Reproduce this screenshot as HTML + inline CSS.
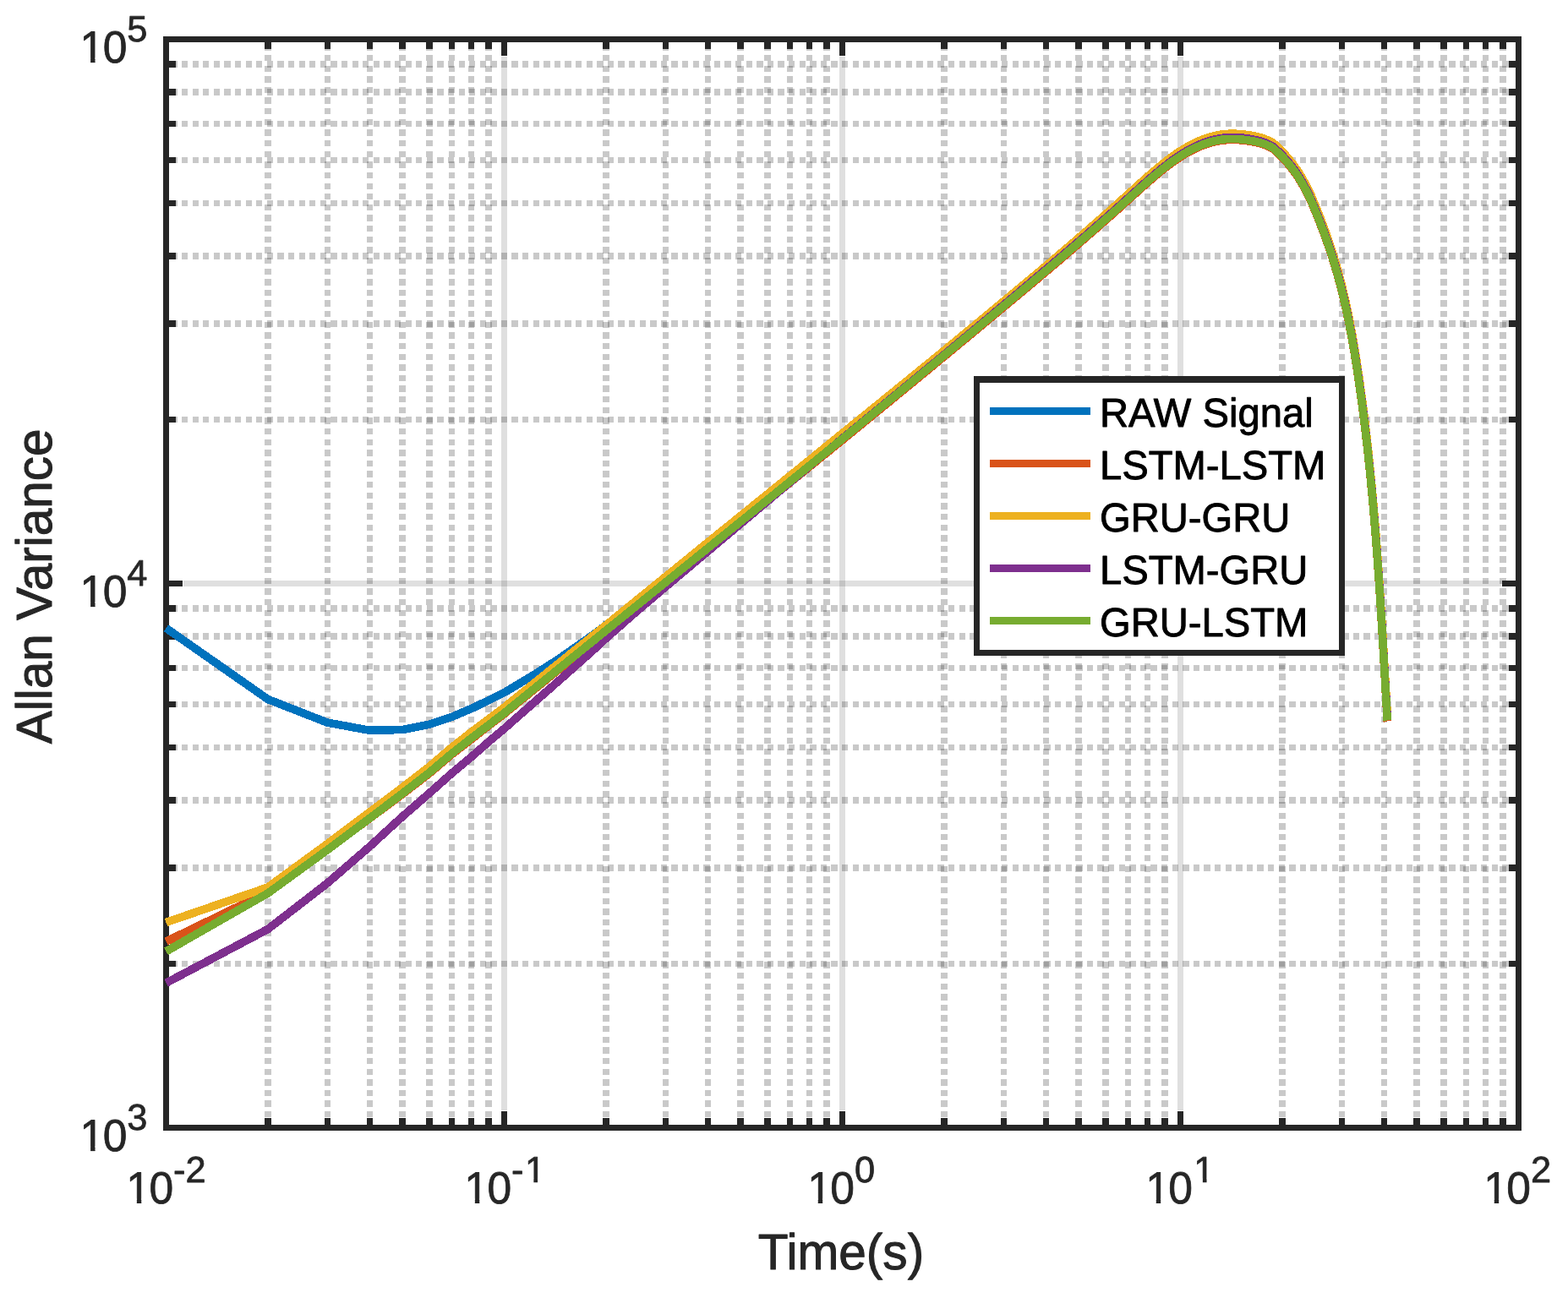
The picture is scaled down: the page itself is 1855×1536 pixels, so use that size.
<!DOCTYPE html>
<html lang="en"><head><meta charset="utf-8"><title>Allan Variance</title>
<style>html,body{margin:0;padding:0;background:#fff}body{width:1855px;height:1536px;overflow:hidden}svg{display:block}text{font-family:"Liberation Sans",Arial,Helvetica,sans-serif;font-kerning:normal;text-rendering:geometricPrecision}</style>
</head><body>
<svg width="1855" height="1536" viewBox="0 0 1855 1536">
<rect x="0" y="0" width="1855" height="1536" fill="#fff"/>
<defs><clipPath id="c0" clipPathUnits="userSpaceOnUse"><path d="M-1 -61.92h30.7v56.77h-30.7zM14.16 -5.25h5.36v5.55h-5.36zM29.1 -61.92h28.8v82.56h-28.8z"/></clipPath><clipPath id="c1" clipPathUnits="userSpaceOnUse"><path d="M0.4 -52.08h14.55v69.44h-14.55zM13.45 -52.08h26.14v47.54h-26.14zM26.3 -4.64h4.64v4.94h-4.64z"/></clipPath><clipPath id="c2" clipPathUnits="userSpaceOnUse"><path d="M-1 -52.08h26.14v47.54h-26.14zM11.85 -4.64h4.64v4.94h-4.64z"/></clipPath></defs>
<g shape-rendering="crispEdges" fill="none" stroke="#262626" stroke-width="7.5">
<g stroke-opacity="0.25">
<path stroke-dasharray="7.35 5.2775" stroke-dashoffset="6.7775" d="M316.91 46.5V1334.5M387.35 46.5V1334.5M437.32 46.5V1334.5M476.09 46.5V1334.5M507.76 46.5V1334.5M534.54 46.5V1334.5M557.74 46.5V1334.5M578.2 46.5V1334.5M716.91 46.5V1334.5M787.35 46.5V1334.5M837.32 46.5V1334.5M876.09 46.5V1334.5M907.76 46.5V1334.5M934.54 46.5V1334.5M957.74 46.5V1334.5M978.2 46.5V1334.5M1116.91 46.5V1334.5M1187.35 46.5V1334.5M1237.32 46.5V1334.5M1276.09 46.5V1334.5M1307.76 46.5V1334.5M1334.54 46.5V1334.5M1357.74 46.5V1334.5M1378.2 46.5V1334.5M1516.91 46.5V1334.5M1587.35 46.5V1334.5M1637.32 46.5V1334.5M1676.09 46.5V1334.5M1707.76 46.5V1334.5M1734.54 46.5V1334.5M1757.74 46.5V1334.5M1778.2 46.5V1334.5"/>
<path stroke-dasharray="7.35 5.2484" stroke-dashoffset="6.7484" d="M196.5 1140.64H1796.5"/>
<path stroke-dasharray="7.35 5.2484" stroke-dashoffset="6.7484" d="M196.5 1027.23H1796.5"/>
<path stroke-dasharray="7.35 5.2484" stroke-dashoffset="6.7484" d="M196.5 946.77H1796.5"/>
<path stroke-dasharray="7.35 5.2484" stroke-dashoffset="6.7484" d="M196.5 884.36H1796.5"/>
<path stroke-dasharray="7.35 5.2484" stroke-dashoffset="6.7484" d="M196.5 833.37H1796.5"/>
<path stroke-dasharray="7.35 5.2484" stroke-dashoffset="6.7484" d="M196.5 790.26H1796.5"/>
<path stroke-dasharray="7.35 5.2484" stroke-dashoffset="6.7484" d="M196.5 752.91H1796.5"/>
<path stroke-dasharray="7.35 5.2484" stroke-dashoffset="6.7484" d="M196.5 719.97H1796.5"/>
<path stroke-dasharray="7.35 5.2484" stroke-dashoffset="6.7484" d="M196.5 496.64H1796.5"/>
<path stroke-dasharray="7.35 5.2484" stroke-dashoffset="6.7484" d="M196.5 383.23H1796.5"/>
<path stroke-dasharray="7.35 5.2484" stroke-dashoffset="6.7484" d="M196.5 302.77H1796.5"/>
<path stroke-dasharray="7.35 5.2484" stroke-dashoffset="6.7484" d="M196.5 240.36H1796.5"/>
<path stroke-dasharray="7.35 5.2484" stroke-dashoffset="6.7484" d="M196.5 189.37H1796.5"/>
<path stroke-dasharray="7.35 5.2484" stroke-dashoffset="6.7484" d="M196.5 146.26H1796.5"/>
<path stroke-dasharray="7.35 5.2484" stroke-dashoffset="6.7484" d="M196.5 108.91H1796.5"/>
<path stroke-dasharray="7.35 5.2484" stroke-dashoffset="6.7484" d="M196.5 75.97H1796.5"/>
</g>
<g stroke-opacity="0.15">
<line x1="596.5" y1="67" x2="596.5" y2="1314"/>
<line x1="996.5" y1="67" x2="996.5" y2="1314"/>
<line x1="1396.5" y1="67" x2="1396.5" y2="1314"/>
<line x1="217" y1="690.5" x2="1776" y2="690.5"/>
</g>
</g>
<g shape-rendering="crispEdges" fill="none" stroke="#262626" stroke-width="7.5">
<path d="M316.91 1334.5v-11.5M316.91 46.5v11.5M387.35 1334.5v-11.5M387.35 46.5v11.5M437.32 1334.5v-11.5M437.32 46.5v11.5M476.09 1334.5v-11.5M476.09 46.5v11.5M507.76 1334.5v-11.5M507.76 46.5v11.5M534.54 1334.5v-11.5M534.54 46.5v11.5M557.74 1334.5v-11.5M557.74 46.5v11.5M578.2 1334.5v-11.5M578.2 46.5v11.5M596.5 1334.5v-19.5M596.5 46.5v19.5M716.91 1334.5v-11.5M716.91 46.5v11.5M787.35 1334.5v-11.5M787.35 46.5v11.5M837.32 1334.5v-11.5M837.32 46.5v11.5M876.09 1334.5v-11.5M876.09 46.5v11.5M907.76 1334.5v-11.5M907.76 46.5v11.5M934.54 1334.5v-11.5M934.54 46.5v11.5M957.74 1334.5v-11.5M957.74 46.5v11.5M978.2 1334.5v-11.5M978.2 46.5v11.5M996.5 1334.5v-19.5M996.5 46.5v19.5M1116.91 1334.5v-11.5M1116.91 46.5v11.5M1187.35 1334.5v-11.5M1187.35 46.5v11.5M1237.32 1334.5v-11.5M1237.32 46.5v11.5M1276.09 1334.5v-11.5M1276.09 46.5v11.5M1307.76 1334.5v-11.5M1307.76 46.5v11.5M1334.54 1334.5v-11.5M1334.54 46.5v11.5M1357.74 1334.5v-11.5M1357.74 46.5v11.5M1378.2 1334.5v-11.5M1378.2 46.5v11.5M1396.5 1334.5v-19.5M1396.5 46.5v19.5M1516.91 1334.5v-11.5M1516.91 46.5v11.5M1587.35 1334.5v-11.5M1587.35 46.5v11.5M1637.32 1334.5v-11.5M1637.32 46.5v11.5M1676.09 1334.5v-11.5M1676.09 46.5v11.5M1707.76 1334.5v-11.5M1707.76 46.5v11.5M1734.54 1334.5v-11.5M1734.54 46.5v11.5M1757.74 1334.5v-11.5M1757.74 46.5v11.5M1778.2 1334.5v-11.5M1778.2 46.5v11.5M196.5 1140.64h11.5M1796.5 1140.64h-11.5M196.5 1027.23h11.5M1796.5 1027.23h-11.5M196.5 946.77h11.5M1796.5 946.77h-11.5M196.5 884.36h11.5M1796.5 884.36h-11.5M196.5 833.37h11.5M1796.5 833.37h-11.5M196.5 790.26h11.5M1796.5 790.26h-11.5M196.5 752.91h11.5M1796.5 752.91h-11.5M196.5 719.97h11.5M1796.5 719.97h-11.5M196.5 690.5h19.5M1796.5 690.5h-19.5M196.5 496.64h11.5M1796.5 496.64h-11.5M196.5 383.23h11.5M1796.5 383.23h-11.5M196.5 302.77h11.5M1796.5 302.77h-11.5M196.5 240.36h11.5M1796.5 240.36h-11.5M196.5 189.37h11.5M1796.5 189.37h-11.5M196.5 146.26h11.5M1796.5 146.26h-11.5M196.5 108.91h11.5M1796.5 108.91h-11.5M196.5 75.97h11.5M1796.5 75.97h-11.5"/>
<rect x="196.5" y="46.5" width="1600" height="1288"/>
</g>
<g shape-rendering="crispEdges" fill="none" stroke-width="9.6" stroke-linejoin="round" stroke-linecap="butt">
<polyline stroke="#0072BD" points="196.5,743.3 316.9,827.5 387.4,855.1 437.3,864.3 476.1,863.5 507.8,857.2 534.5,848.4 557.7,838.5 578.2,828.7 596.5,819.6 600,817.43 603,815.64 606,813.84 609,812.05 612,810.26 615,808.47 618,806.68 621,804.89 624,803.1 627,801.31 630,799.52 633,797.62 636,795.71 639,793.81 642,791.91 645,790 648,788.1 651,786.2 654,784.3 657,782.4 660,780.5 663,778.4 666,776.3 669,774.2 672,772.1 675,770 678,767.9 681,765.81 684,763.71 687,761.61 690,759.51 693,757.42 696,755.32 699,753.22 702,751.13 705,748.85 708,746.55 711,744.24 714,741.93 717,739.62 720,737.31 723,735.01 726,732.7 729,730.39 732,728.08 735,725.78 738,723.47 741,721.15 744,718.8 747,716.44 750,714.09 753,711.74 756,709.39 759,707.04 762,704.69 765,702.33 768,699.98 771,697.63 774,695.28 777,692.93 780,690.57 783,688.22 786,685.87 789,683.52 792,681.17 795,678.81 798,676.46 801,674.09 804,671.66 807,669.24 810,666.81 813,664.39 816,661.97 819,659.54 822,657.12 825,654.69 828,652.27 831,649.84 834,647.42 837,644.99 840,642.56 843,640.14 846,637.71 849,635.29 852,632.86 855,630.43 858,628.01 861,625.58 864,623.15 867,620.72 870,618.3 873,615.87 876,613.44 879,611.01 882,608.58 885,606.15 888,603.72 891,601.29 894,598.86 897,596.43 900,594 903,591.57 906,589.14 909,586.71 912,584.27 915,581.84 918,579.41 921,576.98 924,574.54 927,572.11 930,569.67 933,567.24 936,564.8 939,562.37 942,559.93 945,557.5 948,555.06 951,552.62 954,550.18 957,547.74 960,545.31 963,542.87 966,540.43 969,537.99 972,535.55 975,533.1 978,530.66 981,528.22 984,525.78 987,523.33 990,520.89 993,518.45 996,516 999,513.56 1002,511.11 1005,508.66 1008,506.22 1011,503.77 1014,501.32 1017,498.87 1020,496.42 1023,493.97 1026,491.52 1029,489.07 1032,486.62 1035,484.16 1038,481.71 1041,479.26 1044,476.8 1047,474.35 1050,471.89 1053,469.43 1056,466.97 1059,464.52 1062,462.06 1065,459.6 1068,457.14 1071,454.68 1074,452.21 1077,449.75 1080,447.29 1083,444.82 1086,442.36 1089,439.89 1092,437.43 1095,434.96 1098,432.49 1101,430.02 1104,427.55 1107,425.08 1110,422.61 1113,420.14 1116,417.67 1119,415.19 1122,412.72 1125,410.24 1128,407.76 1131,405.29 1134,402.81 1137,400.33 1140,397.85 1143,395.37 1146,392.89 1149,390.4 1152,387.92 1155,385.44 1158,382.95 1161,380.46 1164,377.98 1167,375.49 1170,373 1173,370.51 1176,368.02 1179,365.52 1182,363.03 1185,360.54 1188,358.04 1191,355.54 1194,353.05 1197,350.55 1200,348.05 1203,345.54 1206,343.04 1209,340.54 1212,338.03 1215,335.52 1218,333.01 1221,330.49 1224,327.98 1227,325.46 1230,322.93 1233,320.41 1236,317.88 1239,315.35 1242,312.81 1245,310.28 1248,307.74 1251,305.19 1254,302.64 1257,300.09 1260,297.53 1263,294.97 1266,292.4 1269,289.83 1272,287.26 1275,284.68 1278,282.1 1281,279.51 1284,276.91 1287,274.31 1290,271.71 1293,269.1 1296,266.48 1299,263.86 1302,261.23 1305,258.6 1308,255.96 1311,253.31 1314,250.66 1317,248 1320,245.34 1323,242.66 1326,239.98 1329,237.3 1332,234.6 1335,231.9 1338,229.19 1341,226.48 1344,223.77 1347,221.07 1350,218.38 1353,215.71 1356,213.05 1359,210.42 1362,207.82 1365,205.24 1368,202.71 1371,200.22 1374,197.77 1377,195.38 1380,193.03 1383,190.75 1386,188.53 1389,186.38 1392,184.3 1395,182.3 1398,180.38 1401,178.54 1404,176.79 1407,175.12 1410,173.54 1413,172.05 1416,170.65 1419,169.34 1422,168.13 1425,167 1428,165.97 1431,165.04 1434,164.2 1437,163.46 1440,162.83 1443,162.29 1446,161.85 1449,161.52 1452,161.29 1455,161.16 1458,161.12 1461,161.17 1464,161.3 1467,161.51 1470,161.8 1473,162.15 1476,162.57 1479,163.04 1482,163.57 1485,164.17 1488,164.85 1491,165.65 1494,166.57 1497,167.65 1500,168.9 1503,170.35 1506,172.02 1508.01,173.79 1511.29,176.79 1514.41,179.79 1517.37,182.8 1520.18,185.8 1522.85,188.8 1525.39,191.81 1527.79,194.81 1530.08,197.81 1532.25,200.81 1534.32,203.82 1536.29,206.82 1538.18,209.82 1539.98,212.82 1541.7,215.82 1543.36,218.83 1544.96,221.83 1546.51,224.83 1548.01,227.83 1549.48,230.83 1550.84,233.83 1552.12,236.84 1553.39,239.84 1554.65,242.84 1555.89,245.84 1557.12,248.84 1558.34,251.84 1559.54,254.84 1560.73,257.85 1561.9,260.85 1563.06,263.85 1564.21,266.85 1565.34,269.85 1566.45,272.85 1567.55,275.85 1568.63,278.85 1569.7,281.86 1570.75,284.86 1571.79,287.86 1572.81,290.86 1573.81,293.86 1574.8,296.86 1575.77,299.86 1576.72,302.86 1577.65,305.86 1578.57,308.87 1579.47,311.87 1580.36,314.87 1581.23,317.87 1582.08,320.87 1582.92,323.87 1583.75,326.87 1584.56,329.87 1585.35,332.87 1586.13,335.87 1586.9,338.87 1587.65,341.88 1588.39,344.88 1589.12,347.88 1589.83,350.88 1590.54,353.88 1591.22,356.88 1591.9,359.88 1592.57,362.88 1593.22,365.88 1593.86,368.88 1594.49,371.88 1595.11,374.88 1595.72,377.88 1596.32,380.88 1596.91,383.89 1597.49,386.89 1598.06,389.89 1598.62,392.89 1599.17,395.89 1599.71,398.89 1600.25,401.89 1600.77,404.89 1601.29,407.89 1601.8,410.89 1602.3,413.89 1602.8,416.89 1603.29,419.89 1603.77,422.89 1604.25,425.89 1604.72,428.89 1605.18,431.89 1605.64,434.9 1606.1,437.9 1606.54,440.9 1606.99,443.9 1607.43,446.9 1607.86,449.9 1608.29,452.9 1608.72,455.9 1609.14,458.9 1609.56,461.9 1609.97,464.9 1610.38,467.9 1610.79,470.9 1611.19,473.9 1611.59,476.9 1611.98,479.9 1612.37,482.9 1612.75,485.9 1613.14,488.9 1613.51,491.9 1613.89,494.9 1614.26,497.9 1614.62,500.91 1614.98,503.91 1615.34,506.91 1615.7,509.91 1616.05,512.91 1616.4,515.91 1616.74,518.91 1617.08,521.91 1617.42,524.91 1617.75,527.91 1618.09,530.91 1618.41,533.91 1618.74,536.91 1619.06,539.91 1619.37,542.91 1619.69,545.91 1620,548.91 1620.31,551.91 1620.61,554.91 1620.91,557.91 1621.21,560.91 1621.51,563.91 1621.8,566.91 1622.09,569.91 1622.38,572.91 1622.66,575.91 1622.94,578.91 1623.22,581.91 1623.49,584.91 1623.77,587.92 1624.04,590.92 1624.31,593.92 1624.57,596.92 1624.83,599.92 1625.09,602.92 1625.35,605.92 1625.61,608.92 1625.86,611.92 1626.11,614.92 1626.36,617.92 1626.6,620.92 1626.84,623.92 1627.09,626.92 1627.32,629.92 1627.56,632.92 1627.8,635.92 1628.03,638.92 1628.26,641.92 1628.49,644.92 1628.71,647.92 1628.94,650.92 1629.16,653.92 1629.38,656.92 1629.6,659.92 1629.82,662.92 1630.03,665.92 1630.24,668.92 1630.46,671.92 1630.67,674.92 1630.87,677.92 1631.08,680.92 1631.29,683.92 1631.49,686.92 1631.69,689.92 1631.89,692.92 1632.09,695.92 1632.29,698.92 1632.49,701.92 1632.68,704.93 1632.88,707.93 1633.07,710.93 1633.26,713.93 1633.45,716.93 1633.64,719.93 1633.83,722.93 1634.02,725.93 1634.21,728.93 1634.39,731.93 1634.58,734.93 1634.76,737.93 1634.94,740.93 1635.13,743.93 1635.31,746.93 1635.49,749.93 1635.67,752.93 1635.85,755.93 1636.02,758.93 1636.2,761.93 1636.38,764.93 1636.56,767.93 1636.73,770.93 1636.91,773.93 1637.08,776.93 1637.26,779.93 1637.43,782.93 1637.61,785.93 1637.78,788.93 1637.96,791.93 1638.13,794.93 1638.3,797.93 1638.48,800.93 1638.65,803.93 1638.82,806.93 1639,809.93 1639.17,812.93 1639.34,815.93 1639.52,818.93 1639.69,821.93 1639.86,824.93 1640.04,827.93 1640.21,830.93 1640.38,833.93 1640.56,836.93 1640.73,839.93 1640.91,842.93 1641.08,845.93 1641.26,848.93 1641.4,849.33"/>
<polyline stroke="#D95319" points="196.5,1114.1 316.9,1055.8 387.4,1005.35 437.3,968.6 476.1,939.8 507.8,915.3 534.5,892.7 557.7,874.8 578.2,858.7 596.5,844.8 600,841.88 603,839.45 606,837.01 609,834.58 612,832.14 615,829.71 618,827.28 621,824.85 624,822.42 627,819.98 630,817.55 633,815.12 636,812.69 639,810.26 642,807.83 645,805.4 648,802.97 651,800.54 654,798.12 657,795.69 660,793.26 663,790.83 666,788.4 669,785.98 672,783.55 675,781.12 678,778.69 681,776.27 684,773.84 687,771.42 690,768.99 693,766.56 696,764.14 699,761.71 702,759.29 705,756.86 708,754.44 711,752.01 714,749.59 717,747.16 720,744.74 723,742.31 726,739.89 729,737.46 732,735.04 735,732.62 738,730.19 741,727.77 744,725.34 747,722.92 750,720.5 753,718.07 756,715.65 759,713.23 762,710.8 765,708.38 768,705.95 771,703.53 774,701.11 777,698.68 780,696.26 783,693.83 786,691.41 789,688.99 792,686.56 795,684.14 798,681.71 801,679.29 804,676.87 807,674.44 810,672.02 813,669.59 816,667.17 819,664.74 822,662.32 825,659.89 828,657.47 831,655.04 834,652.61 837,650.19 840,647.76 843,645.34 846,642.91 849,640.48 852,638.06 855,635.63 858,633.2 861,630.77 864,628.35 867,625.92 870,623.49 873,621.06 876,618.63 879,616.2 882,613.78 885,611.35 888,608.92 891,606.49 894,604.06 897,601.62 900,599.19 903,596.76 906,594.33 909,591.9 912,589.47 915,587.03 918,584.6 921,582.17 924,579.73 927,577.3 930,574.86 933,572.43 936,569.99 939,567.56 942,565.12 945,562.68 948,560.25 951,557.81 954,555.37 957,552.93 960,550.49 963,548.05 966,545.61 969,543.17 972,540.73 975,538.29 978,535.85 981,533.4 984,530.96 987,528.52 990,526.07 993,523.63 996,521.18 999,518.73 1002,516.29 1005,513.84 1008,511.38 1011,508.93 1014,506.48 1017,504.03 1020,501.58 1023,499.12 1026,496.67 1029,494.21 1032,491.76 1035,489.3 1038,486.85 1041,484.39 1044,481.93 1047,479.47 1050,477.01 1053,474.55 1056,472.09 1059,469.63 1062,467.17 1065,464.7 1068,462.24 1071,459.78 1074,457.31 1077,454.84 1080,452.38 1083,449.91 1086,447.44 1089,444.97 1092,442.5 1095,440.03 1098,437.56 1101,435.09 1104,432.62 1107,430.14 1110,427.67 1113,425.19 1116,422.71 1119,420.24 1122,417.76 1125,415.28 1128,412.8 1131,410.32 1134,407.84 1137,405.36 1140,402.87 1143,400.39 1146,397.9 1149,395.42 1152,392.93 1155,390.44 1158,387.95 1161,385.46 1164,382.97 1167,380.48 1170,377.99 1173,375.49 1176,373 1179,370.5 1182,368.01 1185,365.51 1188,363.01 1191,360.51 1194,358.01 1197,355.51 1200,353 1203,350.5 1206,347.99 1209,345.48 1212,342.97 1215,340.46 1218,337.94 1221,335.42 1224,332.9 1227,330.38 1230,327.86 1233,325.33 1236,322.8 1239,320.26 1242,317.72 1245,315.17 1248,312.62 1251,310.06 1254,307.51 1257,304.94 1260,302.38 1263,299.81 1266,297.23 1269,294.66 1272,292.07 1275,289.48 1278,286.89 1281,284.29 1284,281.69 1287,279.08 1290,276.47 1293,273.85 1296,271.23 1299,268.59 1302,265.96 1305,263.32 1308,260.67 1311,258.01 1314,255.35 1317,252.68 1320,250.01 1323,247.33 1326,244.64 1329,241.94 1332,239.24 1335,236.53 1338,233.81 1341,231.09 1344,228.38 1347,225.67 1350,222.97 1353,220.28 1356,217.62 1359,214.98 1362,212.37 1365,209.79 1368,207.24 1371,204.74 1374,202.29 1377,199.88 1380,197.53 1383,195.24 1386,193.01 1389,190.85 1392,188.77 1395,186.75 1398,184.82 1401,182.98 1404,181.22 1407,179.54 1410,177.95 1413,176.45 1416,175.04 1419,173.73 1422,172.5 1425,171.37 1428,170.33 1431,169.39 1434,168.54 1437,167.79 1440,167.15 1443,166.6 1446,166.15 1449,165.81 1452,165.57 1455,165.43 1458,165.39 1461,165.43 1464,165.56 1467,165.77 1470,166.05 1473,166.4 1476,166.82 1479,167.29 1482,167.81 1485,168.41 1488,169.09 1491,169.88 1494,170.8 1497,171.87 1500,173.13 1503,174.57 1506,176.24 1508.01,178 1511.29,181 1514.41,184 1517.37,187 1520.18,190 1522.85,193 1525.39,196 1527.79,199 1530.08,202 1532.25,205 1534.32,208 1536.29,211 1538.18,214 1539.98,217 1541.7,220 1543.36,223 1544.96,226 1546.51,229 1548.01,232 1549.48,235 1550.84,238 1552.12,241 1553.39,244 1554.65,247 1555.89,250 1557.12,253 1558.34,256 1559.54,259 1560.73,262 1561.9,265 1563.06,268 1564.21,271 1565.34,274 1566.45,277 1567.55,280 1568.63,283 1569.7,286 1570.75,289 1571.79,292 1572.81,295 1573.81,298 1574.8,301 1575.77,304 1576.72,307 1577.65,310 1578.57,313 1579.47,316 1580.36,319 1581.23,322 1582.08,325 1582.92,328 1583.75,331 1584.56,334 1585.35,337 1586.13,340 1586.9,343 1587.65,346 1588.39,349 1589.12,352 1589.83,355 1590.54,358 1591.22,361 1591.9,364 1592.57,367 1593.22,370 1593.86,373 1594.49,376 1595.11,379 1595.72,382 1596.32,385 1596.91,388 1597.49,391 1598.06,394 1598.62,397 1599.17,400 1599.71,403 1600.25,406 1600.77,409 1601.29,412 1601.8,415 1602.3,418 1602.8,421 1603.29,424 1603.77,427 1604.25,430 1604.72,433 1605.18,436 1605.64,439 1606.1,442 1606.54,445 1606.99,448 1607.43,451 1607.86,454 1608.29,457 1608.72,460 1609.14,463 1609.56,466 1609.97,469 1610.38,472 1610.79,475 1611.19,478 1611.59,481 1611.98,484 1612.37,487 1612.75,490 1613.14,493 1613.51,496 1613.89,499 1614.26,502 1614.62,505 1614.98,508 1615.34,511 1615.7,514 1616.05,517 1616.4,520 1616.74,523 1617.08,526 1617.42,529 1617.75,532 1618.09,535 1618.41,538 1618.74,541 1619.06,544 1619.37,547 1619.69,550 1620,553 1620.31,556 1620.61,559 1620.91,562 1621.21,565 1621.51,568 1621.8,571 1622.09,574 1622.38,577 1622.66,580 1622.94,583 1623.22,586 1623.49,589 1623.77,592 1624.04,595 1624.31,598 1624.57,601 1624.83,604 1625.09,607 1625.35,610 1625.61,613 1625.86,616 1626.11,619 1626.36,622 1626.6,625 1626.84,628 1627.09,631 1627.32,634 1627.56,637 1627.8,640 1628.03,643 1628.26,646 1628.49,649 1628.71,652 1628.94,655 1629.16,658 1629.38,661 1629.6,664 1629.82,667 1630.03,670 1630.24,673 1630.46,676 1630.67,679 1630.87,682 1631.08,685 1631.29,688 1631.49,691 1631.69,694 1631.89,697 1632.09,700 1632.29,703 1632.49,706 1632.68,709 1632.88,712 1633.07,715 1633.26,718 1633.45,721 1633.64,724 1633.83,727 1634.02,730 1634.21,733 1634.39,736 1634.58,739 1634.76,742 1634.94,745 1635.13,748 1635.31,751 1635.49,754 1635.67,757 1635.85,760 1636.02,763 1636.2,766 1636.38,769 1636.56,772 1636.73,775 1636.91,778 1637.08,781 1637.26,784 1637.43,787 1637.61,790 1637.78,793 1637.96,796 1638.13,799 1638.3,802 1638.48,805 1638.65,808 1638.82,811 1639,814 1639.17,817 1639.34,820 1639.52,823 1639.69,826 1639.86,829 1640.04,832 1640.21,835 1640.38,838 1640.56,841 1640.73,844 1640.91,847 1641.08,850 1641.26,853 1641.4,853.4"/>
<polyline stroke="#EDB120" points="196.5,1091.5 316.9,1050 387.4,998.55 437.3,961 476.1,931.9 507.8,907.3 534.5,884.5 557.7,866.3 578.2,850.9 596.5,837.2 600,834.28 603,831.85 606,829.43 609,827 612,824.57 615,822.14 618,819.71 621,817.28 624,814.86 627,812.43 630,810 633,807.58 636,805.15 639,802.73 642,800.3 645,797.87 648,795.45 651,793.03 654,790.6 657,788.18 660,785.75 663,783.33 666,780.91 669,778.48 672,776.06 675,773.64 678,771.22 681,768.79 684,766.37 687,763.95 690,761.53 693,759.11 696,756.69 699,754.27 702,751.84 705,749.42 708,747 711,744.58 714,742.16 717,739.74 720,737.3 723,734.86 726,732.42 729,729.98 732,727.54 735,725.1 738,722.66 741,720.22 744,717.78 747,715.34 750,712.91 753,710.47 756,708.03 759,705.59 762,703.15 765,700.71 768,698.27 771,695.83 774,693.39 777,690.95 780,688.51 783,686.07 786,683.63 789,681.19 792,678.76 795,676.32 798,673.88 801,671.44 804,669 807,666.56 810,664.12 813,661.68 816,659.24 819,656.8 822,654.35 825,651.91 828,649.47 831,647.03 834,644.59 837,642.15 840,639.72 843,637.3 846,634.87 849,632.45 852,630.02 855,627.59 858,625.17 861,622.74 864,620.31 867,617.89 870,615.46 873,613.03 876,610.6 879,608.17 882,605.75 885,603.32 888,600.89 891,598.46 894,596.03 897,593.6 900,591.17 903,588.74 906,586.31 909,583.88 912,581.44 915,579.01 918,576.58 921,574.15 924,571.71 927,569.28 930,566.85 933,564.41 936,561.98 939,559.54 942,557.11 945,554.67 948,552.23 951,549.8 954,547.36 957,544.92 960,542.48 963,540.04 966,537.6 969,535.16 972,532.72 975,530.28 978,527.84 981,525.4 984,522.96 987,520.51 990,518.07 993,515.63 996,513.18 999,510.75 1002,508.33 1005,505.9 1008,503.47 1011,501.04 1014,498.61 1017,496.18 1020,493.75 1023,491.32 1026,488.89 1029,486.46 1032,484.02 1035,481.59 1038,479.16 1041,476.72 1044,474.28 1047,471.85 1050,469.41 1053,466.97 1056,464.54 1059,462.1 1062,459.66 1065,457.22 1068,454.77 1071,452.33 1074,449.89 1077,447.45 1080,445 1083,442.56 1086,440.11 1089,437.66 1092,435.22 1095,432.77 1098,430.32 1101,427.87 1104,425.42 1107,422.97 1110,420.52 1113,418.06 1116,415.61 1119,413.14 1122,410.66 1125,408.19 1128,405.71 1131,403.23 1134,400.75 1137,398.27 1140,395.79 1143,393.31 1146,390.83 1149,388.34 1152,385.86 1155,383.37 1158,380.89 1161,378.4 1164,375.91 1167,373.42 1170,370.93 1173,368.44 1176,365.95 1179,363.45 1182,360.96 1185,358.46 1188,355.97 1191,353.47 1194,350.97 1197,348.47 1200,345.97 1203,343.47 1206,340.96 1209,338.46 1212,335.95 1215,333.44 1218,330.93 1221,328.41 1224,325.89 1227,323.37 1230,320.85 1233,318.32 1236,315.79 1239,313.26 1242,310.71 1245,308.16 1248,305.6 1251,303.04 1254,300.48 1257,297.92 1260,295.34 1263,292.77 1266,290.19 1269,287.61 1272,285.02 1275,282.43 1278,279.83 1281,277.23 1284,274.62 1287,272.01 1290,269.39 1293,266.77 1296,264.14 1299,261.5 1302,258.86 1305,256.21 1308,253.56 1311,250.9 1314,248.23 1317,245.56 1320,242.88 1323,240.2 1326,237.5 1329,234.8 1332,232.1 1335,229.38 1338,226.66 1341,223.94 1344,221.22 1347,218.5 1350,215.8 1353,213.11 1356,210.44 1359,207.8 1362,205.18 1365,202.6 1368,200.06 1371,197.56 1374,195.1 1377,192.7 1380,190.35 1383,188.05 1386,185.83 1389,183.67 1392,181.58 1395,179.57 1398,177.63 1401,175.79 1404,174.03 1407,172.35 1410,170.76 1413,169.26 1416,167.85 1419,166.53 1422,165.31 1425,164.17 1428,163.13 1431,162.19 1434,161.35 1437,160.6 1440,159.95 1443,159.4 1446,158.96 1449,158.61 1452,158.37 1455,158.23 1458,158.19 1461,158.23 1464,158.36 1467,158.57 1470,158.85 1473,159.2 1476,159.62 1479,160.09 1482,160.61 1485,161.21 1488,161.89 1491,162.68 1494,163.6 1497,164.67 1500,165.93 1503,167.37 1506,169.04 1508.01,170.8 1511.29,173.8 1514.41,176.8 1517.37,179.8 1520.18,182.8 1522.85,185.8 1525.39,188.8 1527.79,191.8 1530.08,194.8 1532.25,197.8 1534.32,200.8 1536.29,203.8 1538.18,206.8 1539.98,209.8 1541.7,212.8 1543.36,215.8 1544.96,218.8 1546.51,221.8 1548.01,224.8 1549.48,227.8 1550.84,230.8 1552.12,233.8 1553.39,236.8 1554.65,239.8 1555.89,242.8 1557.12,245.8 1558.34,248.8 1559.54,251.8 1560.73,254.8 1561.9,257.8 1563.06,260.8 1564.21,263.8 1565.34,266.8 1566.45,269.8 1567.55,272.8 1568.63,275.8 1569.7,278.8 1570.75,281.8 1571.79,284.8 1572.81,287.8 1573.81,290.8 1574.8,293.8 1575.77,296.8 1576.72,299.8 1577.65,302.8 1578.57,305.8 1579.47,308.8 1580.36,311.8 1581.23,314.8 1582.08,317.8 1582.92,320.8 1583.75,323.8 1584.56,326.8 1585.35,329.8 1586.13,332.8 1586.9,335.8 1587.65,338.8 1588.39,341.8 1589.12,344.8 1589.83,347.8 1590.54,350.8 1591.22,353.8 1591.9,356.8 1592.57,359.8 1593.22,362.8 1593.86,365.8 1594.49,368.8 1595.11,371.8 1595.72,374.8 1596.32,377.8 1596.91,380.8 1597.49,383.8 1598.06,386.8 1598.62,389.8 1599.17,392.8 1599.71,395.8 1600.25,398.8 1600.77,401.8 1601.29,404.8 1601.8,407.8 1602.3,410.8 1602.8,413.8 1603.29,416.8 1603.77,419.8 1604.25,422.8 1604.72,425.8 1605.18,428.8 1605.64,431.8 1606.1,434.8 1606.54,437.8 1606.99,440.8 1607.43,443.8 1607.86,446.8 1608.29,449.8 1608.72,452.8 1609.14,455.8 1609.56,458.8 1609.97,461.8 1610.38,464.8 1610.79,467.8 1611.19,470.8 1611.59,473.8 1611.98,476.8 1612.37,479.8 1612.75,482.8 1613.14,485.8 1613.51,488.8 1613.89,491.8 1614.26,494.8 1614.62,497.8 1614.98,500.8 1615.34,503.8 1615.7,506.8 1616.05,509.8 1616.4,512.8 1616.74,515.8 1617.08,518.8 1617.42,521.8 1617.75,524.8 1618.09,527.8 1618.41,530.8 1618.74,533.8 1619.06,536.8 1619.37,539.8 1619.69,542.8 1620,545.8 1620.31,548.8 1620.61,551.8 1620.91,554.8 1621.21,557.8 1621.51,560.8 1621.8,563.8 1622.09,566.8 1622.38,569.8 1622.66,572.8 1622.94,575.8 1623.22,578.8 1623.49,581.8 1623.77,584.8 1624.04,587.8 1624.31,590.8 1624.57,593.8 1624.83,596.8 1625.09,599.8 1625.35,602.8 1625.61,605.8 1625.86,608.8 1626.11,611.8 1626.36,614.8 1626.6,617.8 1626.84,620.8 1627.09,623.8 1627.32,626.8 1627.56,629.8 1627.8,632.8 1628.03,635.8 1628.26,638.8 1628.49,641.8 1628.71,644.8 1628.94,647.8 1629.16,650.8 1629.38,653.8 1629.6,656.8 1629.82,659.8 1630.03,662.8 1630.24,665.8 1630.46,668.8 1630.67,671.8 1630.87,674.8 1631.08,677.8 1631.29,680.8 1631.49,683.8 1631.69,686.8 1631.89,689.8 1632.09,692.8 1632.29,695.8 1632.49,698.8 1632.68,701.8 1632.88,704.8 1633.07,707.8 1633.26,710.8 1633.45,713.8 1633.64,716.8 1633.83,719.8 1634.02,722.8 1634.21,725.8 1634.39,728.8 1634.58,731.8 1634.76,734.8 1634.94,737.8 1635.13,740.8 1635.31,743.8 1635.49,746.8 1635.67,749.8 1635.85,752.8 1636.02,755.8 1636.2,758.8 1636.38,761.8 1636.56,764.8 1636.73,767.8 1636.91,770.8 1637.08,773.8 1637.26,776.8 1637.43,779.8 1637.61,782.8 1637.78,785.8 1637.96,788.8 1638.13,791.8 1638.3,794.8 1638.48,797.8 1638.65,800.8 1638.82,803.8 1639,806.8 1639.17,809.8 1639.34,812.8 1639.52,815.8 1639.69,818.8 1639.86,821.8 1640.04,824.8 1640.21,827.8 1640.38,830.8 1640.56,833.8 1640.73,836.8 1640.91,839.8 1641.08,842.8 1641.26,845.8 1641.4,846.2"/>
<polyline stroke="#7E2F8E" points="196.5,1163.2 316.9,1099.55 387.4,1045 437.3,1001.8 476.1,966.3 507.8,938.75 534.5,915 557.7,895.7 578.2,877.65 596.5,862.4 600,859.24 603,856.59 606,853.95 609,851.31 612,848.66 615,846.02 618,843.38 621,840.74 624,838.1 627,835.46 630,832.82 633,830.2 636,827.58 639,824.96 642,822.34 645,819.72 648,817.1 651,814.48 654,811.86 657,809.2 660,806.53 663,803.87 666,801.21 669,798.55 672,795.89 675,793.23 678,790.57 681,787.9 684,785.23 687,782.57 690,779.9 693,777.23 696,774.56 699,771.89 702,769.16 705,766.39 708,763.63 711,760.86 714,758.1 717,755.33 720,752.69 723,750.04 726,747.39 729,744.74 732,742.09 735,739.44 738,736.79 741,734.14 744,731.49 747,728.84 750,726.26 753,723.7 756,721.14 759,718.58 762,716.02 765,713.47 768,710.91 771,708.35 774,705.79 777,703.23 780,700.67 783,698.15 786,695.63 789,693.1 792,690.58 795,688.06 798,685.53 801,683.01 804,680.48 807,677.96 810,675.43 813,672.91 816,670.38 819,667.86 822,665.34 825,662.81 828,660.28 831,657.76 834,655.23 837,652.71 840,650.19 843,647.67 846,645.15 849,642.63 852,640.12 855,637.6 858,635.08 861,632.56 864,630.04 867,627.52 870,625 873,622.48 876,619.96 879,617.44 882,614.92 885,612.39 888,609.87 891,607.35 894,604.83 897,602.31 900,599.78 903,597.26 906,594.74 909,592.21 912,589.69 915,587.16 918,584.64 921,582.12 924,579.61 927,577.1 930,574.59 933,572.08 936,569.58 939,567.07 942,564.56 945,562.05 948,559.53 951,557.02 954,554.51 957,552 960,549.49 963,546.97 966,544.46 969,541.95 972,539.43 975,536.92 978,534.4 981,531.88 984,529.37 987,526.85 990,524.33 993,521.81 996,519.3 999,516.83 1002,514.37 1005,511.91 1008,509.45 1011,506.99 1014,504.52 1017,502.06 1020,499.6 1023,497.13 1026,494.67 1029,492.21 1032,489.74 1035,487.27 1038,484.81 1041,482.34 1044,479.87 1047,477.4 1050,474.93 1053,472.46 1056,469.99 1059,467.52 1062,465.05 1065,462.58 1068,460.1 1071,457.63 1074,455.15 1077,452.68 1080,450.2 1083,447.72 1086,445.24 1089,442.77 1092,440.29 1095,437.8 1098,435.32 1101,432.84 1104,430.36 1107,427.87 1110,425.39 1113,422.9 1116,420.42 1119,417.93 1122,415.43 1125,412.93 1128,410.44 1131,407.94 1134,405.44 1137,402.94 1140,400.44 1143,397.94 1146,395.43 1149,392.93 1152,390.43 1155,387.92 1158,385.41 1161,382.91 1164,380.4 1167,377.89 1170,375.38 1173,372.87 1176,370.35 1179,367.84 1182,365.33 1185,362.81 1188,360.3 1191,357.78 1194,355.26 1197,352.74 1200,350.22 1203,347.7 1206,345.17 1209,342.65 1212,340.12 1215,337.59 1218,335.05 1221,332.52 1224,329.98 1227,327.44 1230,324.9 1233,322.35 1236,319.8 1239,317.26 1242,314.73 1245,312.2 1248,309.66 1251,307.11 1254,304.56 1257,302.01 1260,299.46 1263,296.9 1266,294.33 1269,291.77 1272,289.19 1275,286.62 1278,284.03 1281,281.45 1284,278.85 1287,276.26 1290,273.65 1293,271.04 1296,268.43 1299,265.81 1302,263.18 1305,260.55 1308,257.91 1311,255.27 1314,252.62 1317,249.96 1320,247.29 1323,244.62 1326,241.95 1329,239.26 1332,236.57 1335,233.87 1338,231.16 1341,228.45 1344,225.75 1347,223.05 1350,220.36 1353,217.68 1356,215.03 1359,212.39 1362,209.77 1365,207.18 1368,204.63 1371,202.12 1374,199.65 1377,197.24 1380,194.88 1383,192.58 1386,190.34 1389,188.17 1392,186.07 1395,184.05 1398,182.11 1401,180.26 1404,178.49 1407,176.8 1410,175.21 1413,173.7 1416,172.28 1419,170.95 1422,169.71 1425,168.57 1428,167.52 1431,166.57 1434,165.72 1437,164.96 1440,164.3 1443,163.75 1446,163.29 1449,162.94 1452,162.69 1455,162.54 1458,162.49 1461,162.53 1464,162.66 1467,162.87 1470,163.15 1473,163.5 1476,163.92 1479,164.39 1482,164.91 1485,165.51 1488,166.19 1491,166.98 1494,167.9 1497,168.97 1500,170.23 1503,171.67 1506,173.34 1508.01,175.1 1511.29,178.1 1514.41,181.1 1517.37,184.1 1520.18,187.1 1522.85,190.1 1525.39,193.1 1527.79,196.1 1530.08,199.1 1532.25,202.1 1534.32,205.1 1536.29,208.1 1538.18,211.1 1539.98,214.1 1541.7,217.1 1543.36,220.1 1544.96,223.1 1546.51,226.1 1548.01,229.1 1549.48,232.1 1550.84,235.1 1552.12,238.1 1553.39,241.1 1554.65,244.1 1555.89,247.1 1557.12,250.1 1558.34,253.1 1559.54,256.1 1560.73,259.1 1561.9,262.1 1563.06,265.1 1564.21,268.1 1565.34,271.1 1566.45,274.1 1567.55,277.1 1568.63,280.1 1569.7,283.1 1570.75,286.1 1571.79,289.1 1572.81,292.1 1573.81,295.1 1574.8,298.1 1575.77,301.1 1576.72,304.1 1577.65,307.1 1578.57,310.1 1579.47,313.1 1580.36,316.1 1581.23,319.1 1582.08,322.1 1582.92,325.1 1583.75,328.1 1584.56,331.1 1585.35,334.1 1586.13,337.1 1586.9,340.1 1587.65,343.1 1588.39,346.1 1589.12,349.1 1589.83,352.1 1590.54,355.1 1591.22,358.1 1591.9,361.1 1592.57,364.1 1593.22,367.1 1593.86,370.1 1594.49,373.1 1595.11,376.1 1595.72,379.1 1596.32,382.1 1596.91,385.1 1597.49,388.1 1598.06,391.1 1598.62,394.1 1599.17,397.1 1599.71,400.1 1600.25,403.1 1600.77,406.1 1601.29,409.1 1601.8,412.1 1602.3,415.1 1602.8,418.1 1603.29,421.1 1603.77,424.1 1604.25,427.1 1604.72,430.1 1605.18,433.1 1605.64,436.1 1606.1,439.1 1606.54,442.1 1606.99,445.1 1607.43,448.1 1607.86,451.1 1608.29,454.1 1608.72,457.1 1609.14,460.1 1609.56,463.1 1609.97,466.1 1610.38,469.1 1610.79,472.1 1611.19,475.1 1611.59,478.1 1611.98,481.1 1612.37,484.1 1612.75,487.1 1613.14,490.1 1613.51,493.1 1613.89,496.1 1614.26,499.1 1614.62,502.1 1614.98,505.1 1615.34,508.1 1615.7,511.1 1616.05,514.1 1616.4,517.1 1616.74,520.1 1617.08,523.1 1617.42,526.1 1617.75,529.1 1618.09,532.1 1618.41,535.1 1618.74,538.1 1619.06,541.1 1619.37,544.1 1619.69,547.1 1620,550.1 1620.31,553.1 1620.61,556.1 1620.91,559.1 1621.21,562.1 1621.51,565.1 1621.8,568.1 1622.09,571.1 1622.38,574.1 1622.66,577.1 1622.94,580.1 1623.22,583.1 1623.49,586.1 1623.77,589.1 1624.04,592.1 1624.31,595.1 1624.57,598.1 1624.83,601.1 1625.09,604.1 1625.35,607.1 1625.61,610.1 1625.86,613.1 1626.11,616.1 1626.36,619.1 1626.6,622.1 1626.84,625.1 1627.09,628.1 1627.32,631.1 1627.56,634.1 1627.8,637.1 1628.03,640.1 1628.26,643.1 1628.49,646.1 1628.71,649.1 1628.94,652.1 1629.16,655.1 1629.38,658.1 1629.6,661.1 1629.82,664.1 1630.03,667.1 1630.24,670.1 1630.46,673.1 1630.67,676.1 1630.87,679.1 1631.08,682.1 1631.29,685.1 1631.49,688.1 1631.69,691.1 1631.89,694.1 1632.09,697.1 1632.29,700.1 1632.49,703.1 1632.68,706.1 1632.88,709.1 1633.07,712.1 1633.26,715.1 1633.45,718.1 1633.64,721.1 1633.83,724.1 1634.02,727.1 1634.21,730.1 1634.39,733.1 1634.58,736.1 1634.76,739.1 1634.94,742.1 1635.13,745.1 1635.31,748.1 1635.49,751.1 1635.67,754.1 1635.85,757.1 1636.02,760.1 1636.2,763.1 1636.38,766.1 1636.56,769.1 1636.73,772.1 1636.91,775.1 1637.08,778.1 1637.26,781.1 1637.43,784.1 1637.61,787.1 1637.78,790.1 1637.96,793.1 1638.13,796.1 1638.3,799.1 1638.48,802.1 1638.65,805.1 1638.82,808.1 1639,811.1 1639.17,814.1 1639.34,817.1 1639.52,820.1 1639.69,823.1 1639.86,826.1 1640.04,829.1 1640.21,832.1 1640.38,835.1 1640.56,838.1 1640.73,841.1 1640.91,844.1 1641.08,847.1 1641.26,850.1 1641.4,850.5"/>
<polyline stroke="#77AC30" points="196.5,1125.85 316.9,1057 387.4,1005.65 437.3,968.3 476.1,938.9 507.8,914.3 534.5,891.7 557.7,873.5 578.2,857.8 596.5,843.8 600,840.88 603,838.44 606,836 609,833.57 612,831.13 615,828.69 618,826.26 621,823.82 624,821.39 627,818.95 630,816.52 633,814.09 636,811.65 639,809.22 642,806.79 645,804.35 648,801.92 651,799.49 654,797.06 657,794.63 660,792.2 663,789.76 666,787.33 669,784.9 672,782.47 675,780.04 678,777.61 681,775.18 684,772.75 687,770.33 690,767.9 693,765.47 696,763.04 699,760.61 702,758.18 705,755.75 708,753.33 711,750.9 714,748.47 717,746.04 720,743.61 723,741.19 726,738.76 729,736.33 732,733.9 735,731.48 738,729.05 741,726.62 744,724.2 747,721.77 750,719.34 753,716.92 756,714.49 759,712.06 762,709.64 765,707.21 768,704.78 771,702.36 774,699.93 777,697.5 780,695.07 783,692.65 786,690.22 789,687.79 792,685.37 795,682.94 798,680.51 801,678.09 804,675.66 807,673.23 810,670.8 813,668.38 816,665.95 819,663.52 822,661.09 825,658.66 828,656.23 831,653.81 834,651.38 837,648.95 840,646.52 843,644.09 846,641.66 849,639.23 852,636.8 855,634.37 858,631.94 861,629.51 864,627.08 867,624.65 870,622.22 873,619.79 876,617.35 879,614.92 882,612.49 885,610.06 888,607.62 891,605.19 894,602.76 897,600.32 900,597.89 903,595.46 906,593.02 909,590.59 912,588.15 915,585.71 918,583.28 921,580.84 924,578.4 927,575.97 930,573.53 933,571.09 936,568.65 939,566.21 942,563.77 945,561.33 948,558.89 951,556.45 954,554.01 957,551.57 960,549.13 963,546.69 966,544.24 969,541.8 972,539.35 975,536.91 978,534.47 981,532.02 984,529.57 987,527.13 990,524.68 993,522.23 996,519.78 999,517.33 1002,514.89 1005,512.44 1008,509.98 1011,507.53 1014,505.08 1017,502.63 1020,500.18 1023,497.72 1026,495.27 1029,492.81 1032,490.36 1035,487.9 1038,485.45 1041,482.99 1044,480.53 1047,478.07 1050,475.61 1053,473.15 1056,470.69 1059,468.23 1062,465.77 1065,463.3 1068,460.84 1071,458.38 1074,455.91 1077,453.44 1080,450.98 1083,448.51 1086,446.04 1089,443.57 1092,441.1 1095,438.63 1098,436.16 1101,433.69 1104,431.22 1107,428.74 1110,426.27 1113,423.79 1116,421.31 1119,418.84 1122,416.36 1125,413.88 1128,411.4 1131,408.92 1134,406.44 1137,403.96 1140,401.47 1143,398.99 1146,396.5 1149,394.02 1152,391.53 1155,389.04 1158,386.55 1161,384.06 1164,381.57 1167,379.08 1170,376.59 1173,374.09 1176,371.6 1179,369.1 1182,366.61 1185,364.11 1188,361.61 1191,359.11 1194,356.61 1197,354.11 1200,351.6 1203,349.1 1206,346.59 1209,344.08 1212,341.57 1215,339.06 1218,336.54 1221,334.02 1224,331.5 1227,328.98 1230,326.46 1233,323.93 1236,321.4 1239,318.86 1242,316.32 1245,313.78 1248,311.24 1251,308.69 1254,306.14 1257,303.58 1260,301.02 1263,298.46 1266,295.89 1269,293.31 1272,290.74 1275,288.15 1278,285.57 1281,282.97 1284,280.38 1287,277.77 1290,275.16 1293,272.55 1296,269.93 1299,267.31 1302,264.68 1305,262.04 1308,259.39 1311,256.75 1314,254.09 1317,251.43 1320,248.76 1323,246.08 1326,243.4 1329,240.71 1332,238.01 1335,235.31 1338,232.6 1341,229.88 1344,227.17 1347,224.47 1350,221.77 1353,219.09 1356,216.43 1359,213.8 1362,211.19 1365,208.62 1368,206.08 1371,203.58 1374,201.13 1377,198.73 1380,196.39 1383,194.1 1386,191.88 1389,189.73 1392,187.65 1395,185.64 1398,183.72 1401,181.87 1404,180.12 1407,178.45 1410,176.87 1413,175.37 1416,173.97 1419,172.66 1422,171.43 1425,170.31 1428,169.27 1431,168.34 1434,167.5 1437,166.76 1440,166.11 1443,165.57 1446,165.13 1449,164.8 1452,164.56 1455,164.43 1458,164.39 1461,164.43 1464,164.56 1467,164.77 1470,165.05 1473,165.4 1476,165.82 1479,166.29 1482,166.81 1485,167.41 1488,168.09 1491,168.88 1494,169.8 1497,170.87 1500,172.13 1503,173.57 1506,175.24 1508.01,177 1511.29,180 1514.41,183 1517.37,186 1520.18,189 1522.85,192 1525.39,195 1527.79,198 1530.08,201 1532.25,204 1534.32,207 1536.29,210 1538.18,213 1539.98,216 1541.7,219 1543.36,222 1544.96,225 1546.51,228 1548.01,231 1549.48,234 1550.84,237 1552.12,240 1553.39,243 1554.65,246 1555.89,249 1557.12,252 1558.34,255 1559.54,258 1560.73,261 1561.9,264 1563.06,267 1564.21,270 1565.34,273 1566.45,276 1567.55,279 1568.63,282 1569.7,285 1570.75,288 1571.79,291 1572.81,294 1573.81,297 1574.8,300 1575.77,303 1576.72,306 1577.65,309 1578.57,312 1579.47,315 1580.36,318 1581.23,321 1582.08,324 1582.92,327 1583.75,330 1584.56,333 1585.35,336 1586.13,339 1586.9,342 1587.65,345 1588.39,348 1589.12,351 1589.83,354 1590.54,357 1591.22,360 1591.9,363 1592.57,366 1593.22,369 1593.86,372 1594.49,375 1595.11,378 1595.72,381 1596.32,384 1596.91,387 1597.49,390 1598.06,393 1598.62,396 1599.17,399 1599.71,402 1600.25,405 1600.77,408 1601.29,411 1601.8,414 1602.3,417 1602.8,420 1603.29,423 1603.77,426 1604.25,429 1604.72,432 1605.18,435 1605.64,438 1606.1,441 1606.54,444 1606.99,447 1607.43,450 1607.86,453 1608.29,456 1608.72,459 1609.14,462 1609.56,465 1609.97,468 1610.38,471 1610.79,474 1611.19,477 1611.59,480 1611.98,483 1612.37,486 1612.75,489 1613.14,492 1613.51,495 1613.89,498 1614.26,501 1614.62,504 1614.98,507 1615.34,510 1615.7,513 1616.05,516 1616.4,519 1616.74,522 1617.08,525 1617.42,528 1617.75,531 1618.09,534 1618.41,537 1618.74,540 1619.06,543 1619.37,546 1619.69,549 1620,552 1620.31,555 1620.61,558 1620.91,561 1621.21,564 1621.51,567 1621.8,570 1622.09,573 1622.38,576 1622.66,579 1622.94,582 1623.22,585 1623.49,588 1623.77,591 1624.04,594 1624.31,597 1624.57,600 1624.83,603 1625.09,606 1625.35,609 1625.61,612 1625.86,615 1626.11,618 1626.36,621 1626.6,624 1626.84,627 1627.09,630 1627.32,633 1627.56,636 1627.8,639 1628.03,642 1628.26,645 1628.49,648 1628.71,651 1628.94,654 1629.16,657 1629.38,660 1629.6,663 1629.82,666 1630.03,669 1630.24,672 1630.46,675 1630.67,678 1630.87,681 1631.08,684 1631.29,687 1631.49,690 1631.69,693 1631.89,696 1632.09,699 1632.29,702 1632.49,705 1632.68,708 1632.88,711 1633.07,714 1633.26,717 1633.45,720 1633.64,723 1633.83,726 1634.02,729 1634.21,732 1634.39,735 1634.58,738 1634.76,741 1634.94,744 1635.13,747 1635.31,750 1635.49,753 1635.67,756 1635.85,759 1636.02,762 1636.2,765 1636.38,768 1636.56,771 1636.73,774 1636.91,777 1637.08,780 1637.26,783 1637.43,786 1637.61,789 1637.78,792 1637.96,795 1638.13,798 1638.3,801 1638.48,804 1638.65,807 1638.82,810 1639,813 1639.17,816 1639.34,819 1639.52,822 1639.69,825 1639.86,828 1640.04,831 1640.21,834 1640.38,837 1640.56,840 1640.73,843 1640.91,846 1641.08,849 1641.26,852 1641.4,852.4"/>
</g>
<g shape-rendering="crispEdges">
<rect x="1155.5" y="449" width="432" height="323.5" fill="#fff" stroke="#262626" stroke-width="7.5"/>
<rect x="1171" y="482" width="119" height="9" fill="#0072BD"/>
<rect x="1171" y="544" width="119" height="9" fill="#D95319"/>
<rect x="1171" y="606" width="119" height="9" fill="#EDB120"/>
<rect x="1171" y="668" width="119" height="9" fill="#7E2F8E"/>
<rect x="1171" y="730" width="119" height="9" fill="#77AC30"/>
</g>
<g fill="#000" stroke="#000" stroke-width="0.9" stroke-linejoin="round">
<text transform="translate(1301 504.7) scale(1 1.015)" font-size="47.2">RAW Signal</text>
<text transform="translate(1301 566.7) scale(1 1.015)" font-size="47.2">LSTM-LSTM</text>
<text transform="translate(1301 628.7) scale(1 1.015)" font-size="47.2">GRU-GRU</text>
<text transform="translate(1301 690.7) scale(1 1.015)" font-size="47.2">LSTM-GRU</text>
<text transform="translate(1301 752.7) scale(1 1.015)" font-size="47.2">GRU-LSTM</text>
</g>
<g fill="#262626" stroke="#262626" stroke-width="0.75" stroke-linejoin="round">
<text transform="translate(92.97 1361.9) scale(1 1.028)" font-size="51.6" clip-path="url(#c0)"><tspan dx="1.59">1</tspan><tspan dx="-1.59">0</tspan></text><text transform="translate(150.36 1337.3) scale(1 1)" font-size="43.4">3</text>
<text transform="translate(92.97 717.9) scale(1 1.028)" font-size="51.6" clip-path="url(#c0)"><tspan dx="1.59">1</tspan><tspan dx="-1.59">0</tspan></text><text transform="translate(150.36 693.3) scale(1 1)" font-size="43.4">4</text>
<text transform="translate(92.97 73.9) scale(1 1.028)" font-size="51.6" clip-path="url(#c0)"><tspan dx="1.59">1</tspan><tspan dx="-1.59">0</tspan></text><text transform="translate(150.36 49.3) scale(1 1)" font-size="43.4">5</text>
<text transform="translate(147.71 1423.8) scale(1 1.028)" font-size="51.6" clip-path="url(#c0)"><tspan dx="1.59">1</tspan><tspan dx="-1.59">0</tspan></text><text transform="translate(205.1 1399.2) scale(1 1)" font-size="43.4">-2</text>
<text transform="translate(547.71 1423.8) scale(1 1.028)" font-size="51.6" clip-path="url(#c0)"><tspan dx="1.59">1</tspan><tspan dx="-1.59">0</tspan></text><text transform="translate(605.1 1399.2) scale(1 1)" font-size="43.4" clip-path="url(#c1)">-<tspan dx="1.34">1</tspan></text>
<text transform="translate(953.63 1423.8) scale(1 1.028)" font-size="51.6" clip-path="url(#c0)"><tspan dx="1.59">1</tspan><tspan dx="-1.59">0</tspan></text><text transform="translate(1011.03 1399.2) scale(1 1)" font-size="43.4">0</text>
<text transform="translate(1353.63 1423.8) scale(1 1.028)" font-size="51.6" clip-path="url(#c0)"><tspan dx="1.59">1</tspan><tspan dx="-1.59">0</tspan></text><text transform="translate(1411.03 1399.2) scale(1 1)" font-size="43.4" clip-path="url(#c2)"><tspan dx="1.34">1</tspan></text>
<text transform="translate(1753.63 1423.8) scale(1 1.028)" font-size="51.6" clip-path="url(#c0)"><tspan dx="1.59">1</tspan><tspan dx="-1.59">0</tspan></text><text transform="translate(1811.03 1399.2) scale(1 1)" font-size="43.4">2</text>
</g>
<g fill="#262626" stroke="#262626" stroke-width="1" stroke-linejoin="round">
<text transform="translate(995 1501.5) scale(1 1.02)" font-size="58.6" text-anchor="middle">Time(s)</text>
<text transform="translate(60.9 693.9) rotate(-90) scale(1 1.018)" font-size="58.5" text-anchor="middle">Allan Variance</text>
</g>
</svg>
</body></html>
